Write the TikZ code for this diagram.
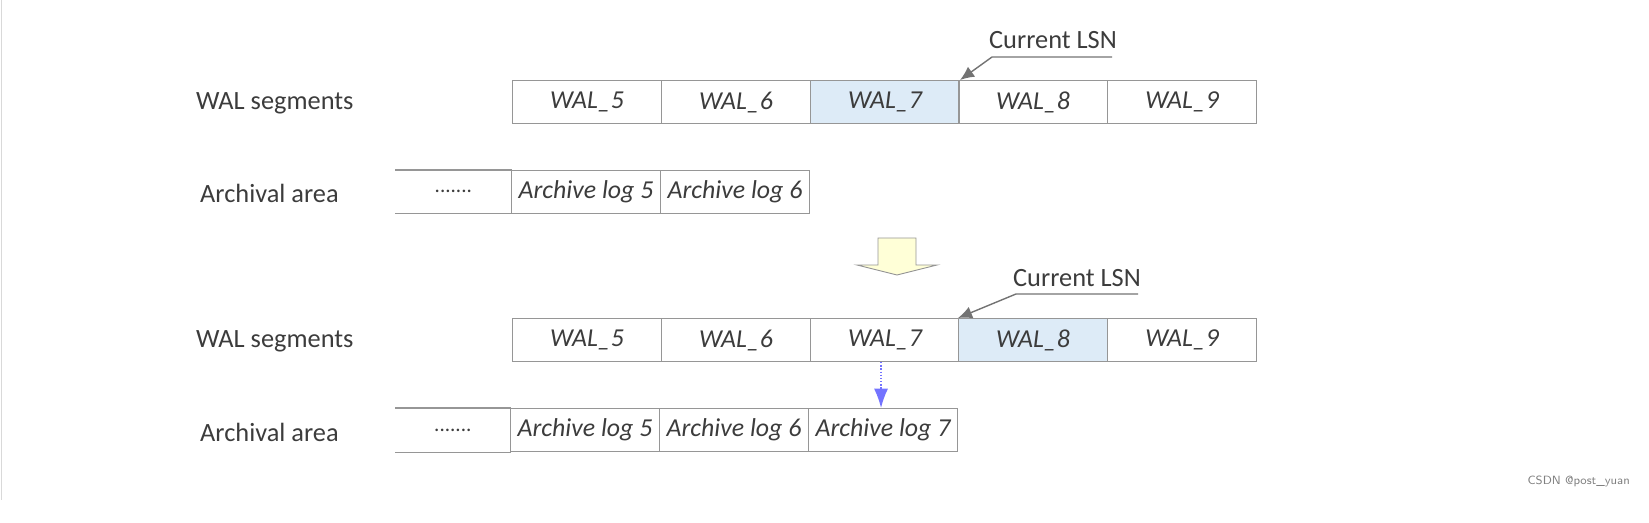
\documentclass[tikz,border=0pt]{standalone}
\usepackage{fontspec}
\setmainfont{Carlito}
\usetikzlibrary{arrows.meta}
\definecolor{txt}{RGB}{60,60,60}
\definecolor{bd}{RGB}{150,150,150}
\definecolor{hl}{RGB}{221,235,247}
\definecolor{yl}{RGB}{255,255,215}
\begin{document}
\begin{tikzpicture}[x=0.02cm,y=-0.02cm,
  cell/.style={draw=bd,line width=0.6pt,minimum width=149*0.02cm,minimum height=43*0.02cm,inner sep=0,anchor=north west,font=\fontsize{14.7}{16}\selectfont\itshape,text=txt},
  lab/.style={anchor=west,font=\fontsize{15}{17}\selectfont,text=txt},
  lsn/.style={font=\fontsize{15}{17}\selectfont,text=txt},
  ptr/.style={draw=gray!90!black,line width=0.8pt,-{Latex[length=8pt,width=7pt]}}]
\useasboundingbox (0,0) rectangle (1649,523);
\draw[gray!30] (1,0) -- (1,500);
% top
\node[lab] (l1) at (190,103) {WAL segments};
\node[lab] (l2) at (194,193) {Archival area};
\node[cell] (a5) at (512,80) {WAL\_5};
\node[cell] (a6) at (661,80) {WAL\_6};
\node[cell,fill=hl] (a7) at (810,80) {WAL\_7};
\node[cell] (a8) at (958,80) {WAL\_8};
\node[cell] (a9) at (1107,80) {WAL\_9};
\node[lsn] (c1) at (1053,40) {Current LSN};
\coordinate (c1e) at (1112,57);
\draw[ptr] (c1e) -- (992,57) -- (a7.north east);
\node[minimum width=116*0.02cm,minimum height=43*0.02cm,inner sep=0,anchor=north west,text=txt,font=\large] (d1) at (395,170) {.......};
\draw[bd,line width=0.6pt] (d1.north west) -- (d1.north east) (d1.south west) -- (d1.south east);
\node[cell] (r5) at (511,170) {Archive log 5};
\node[cell] (r6) at (660,170) {Archive log 6};
% yellow arrow
\draw[bd,fill=yl,line width=0.5pt] (878,238) -- (916,238) -- (916,265) -- (937,265) -- (897,275) -- (857,265) -- (878,265) -- cycle;
% bottom
\node[lab] (l3) at (190,341) {WAL segments};
\node[lab] (l4) at (194,432) {Archival area};
\node[cell] (b5) at (512,318) {WAL\_5};
\node[cell] (b6) at (661,318) {WAL\_6};
\node[cell] (b7) at (810,318) {WAL\_7};
\node[cell,fill=hl] (b8) at (958,318) {WAL\_8};
\node[cell] (b9) at (1107,318) {WAL\_9};
\node[lsn] (c2) at (1077,278) {Current LSN};
\coordinate (c2e) at (1138,294);
\draw[ptr] (c2e) -- (1016,294) -- (b8.north west);
\node[minimum width=115*0.02cm,minimum height=44*0.02cm,inner sep=0,anchor=north west,text=txt,font=\large] (d2) at (395,408) {.......};
\draw[bd,line width=0.6pt] (d2.north west) -- (d2.north east) (d2.south west) -- (d2.south east);
\node[cell] (s5) at (510,408) {Archive log 5};
\node[cell] (s6) at (659,408) {Archive log 6};
\node[cell] (s7) at (808,408) {Archive log 7};
\draw[blue!55,densely dotted,line width=0.8pt,-{Latex[length=11pt,width=8pt]}] ([xshift=-0.08cm]b7.south) -- ([xshift=-0.08cm]b7.south |- s7.north);
\node[anchor=east,font=\fontsize{6.8}{8}\selectfont\sffamily,text=gray] (wm) at (1636,481) {CSDN @post\_yuan};
\end{tikzpicture}
\end{document}
